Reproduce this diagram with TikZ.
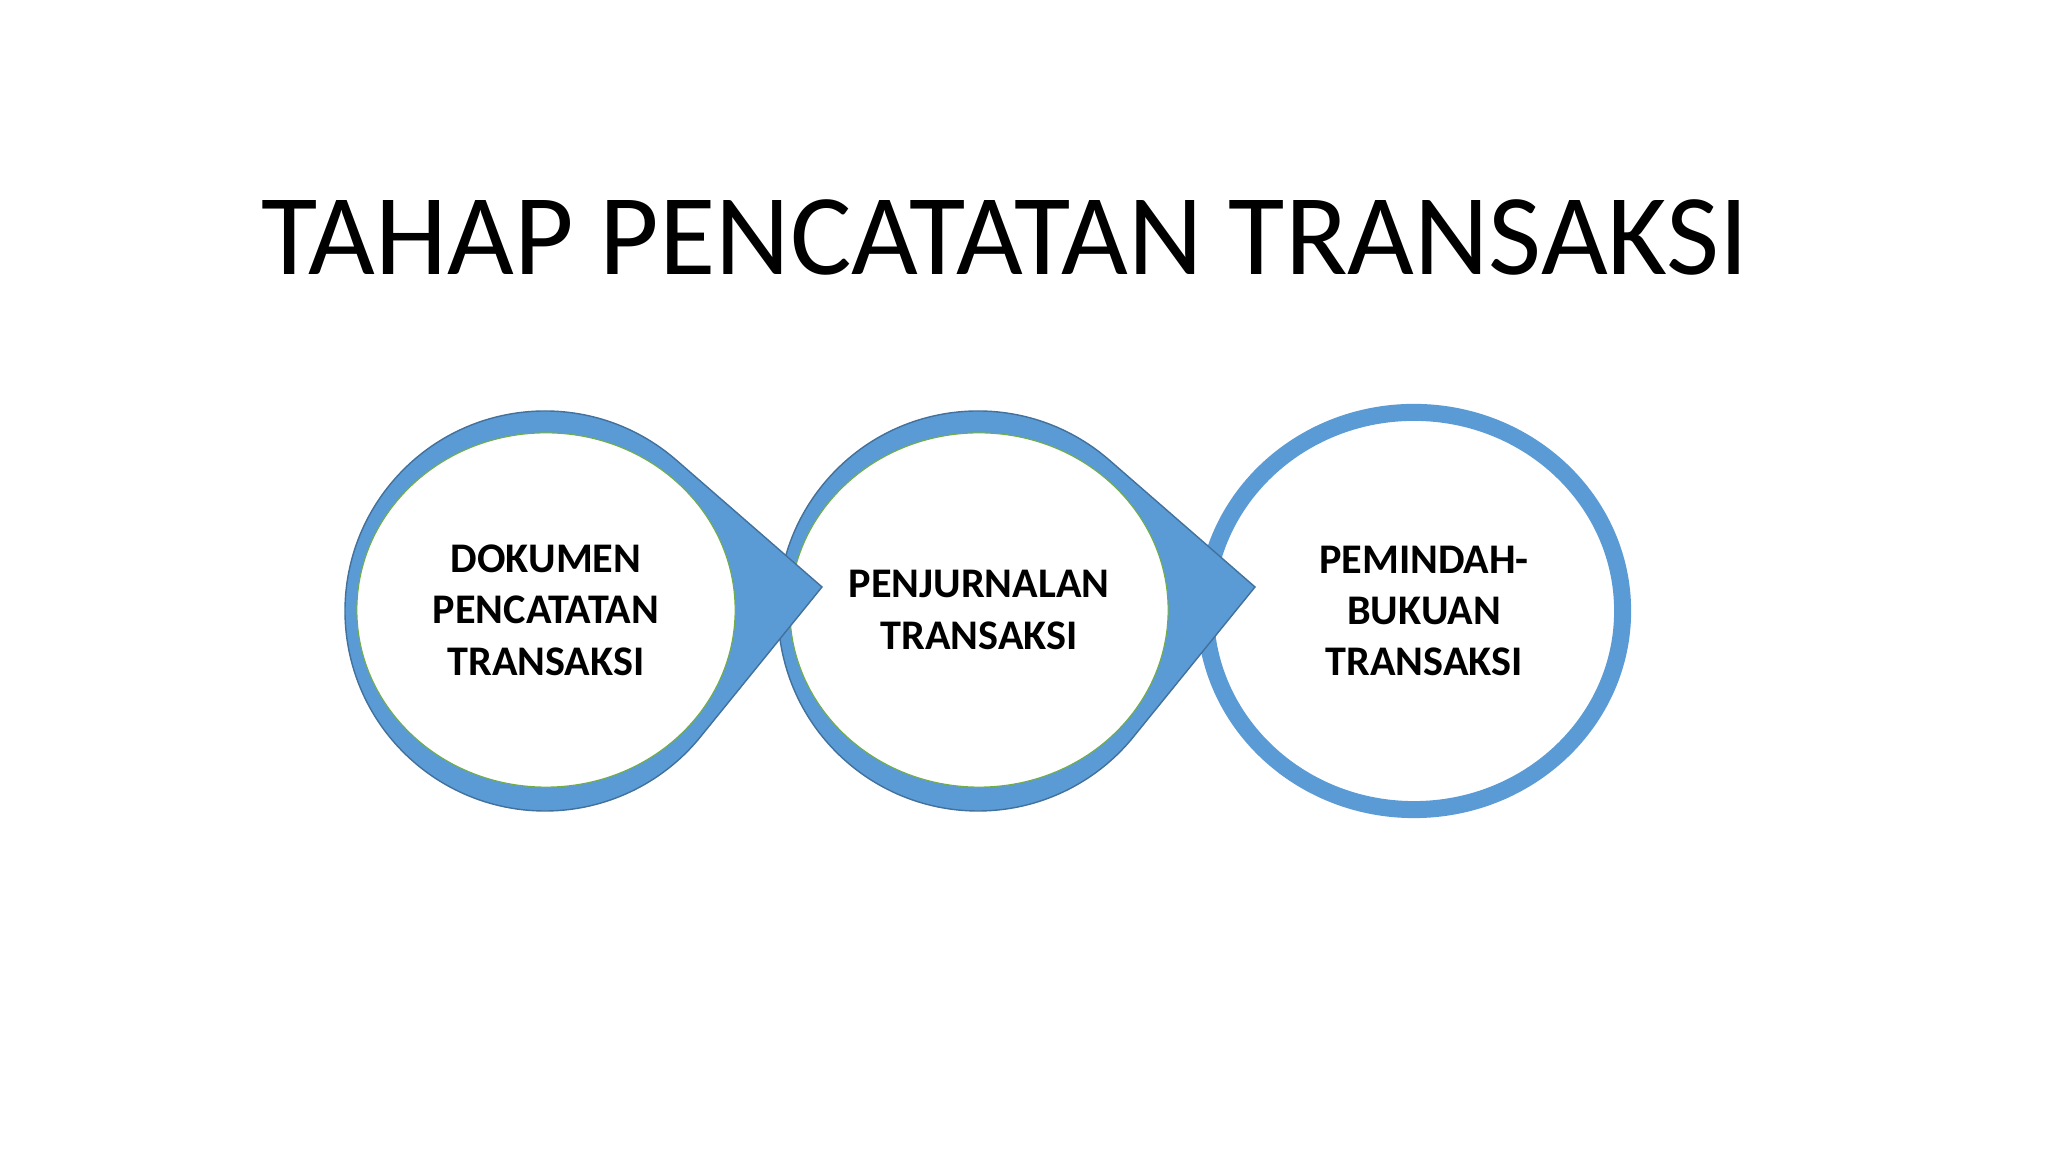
\documentclass[tikz,border=0pt]{standalone}
\usepackage{fontspec}
\setmainfont{Carlito}
\usetikzlibrary{shapes.geometric}
\definecolor{stepblue}{HTML}{5B9BD5}
\definecolor{stepedge}{HTML}{41719C}
\definecolor{stepgreen}{HTML}{70AD47}

\begin{document}
\begin{tikzpicture}[x=0.01cm, y=0.01cm,
		tear/.style={fill=stepblue, draw=stepedge, line width=0.4pt},
		label/.style={align=center, font=\bfseries\fontsize{12}{14.6}\selectfont},
		inner/.style={ellipse, fill=white, draw=stepgreen, line width=0.3pt, inner sep=0pt,
			minimum width=3.78cm, minimum height=3.54cm, label}]
			\fill[white] (0,0) rectangle (2048,1152);
			\node[font=\fontsize{32.8}{38}\selectfont, anchor=base] (title) at (1005,877) {TAHAP PENCATATAN TRANSAKSI};
			\node[inner, draw=stepblue, line width=0.17cm, minimum width=4.17cm, minimum height=3.97cm]
				(pindah) at (1414,541) {};
			\node[label] (pindah-text) at (1424,541) {PEMINDAH-\\BUKUAN\\TRANSAKSI};
			\foreach \x/\name/\txt in {978/jurnal/{PENJURNALAN\\TRANSAKSI}, 545/dok/{DOKUMEN\\PENCATATAN\\TRANSAKSI}} {
				\coordinate (tip-\name) at (\x+277,565);
				\draw[tear] (tip-\name) -- ([shift={(49:200)}]\x,541)
					arc[start angle=49, end angle=321, radius=200] -- cycle;
				\node[inner] (\name) at (\x+1,542) {\txt};
			}
		\end{tikzpicture}
\end{document}
